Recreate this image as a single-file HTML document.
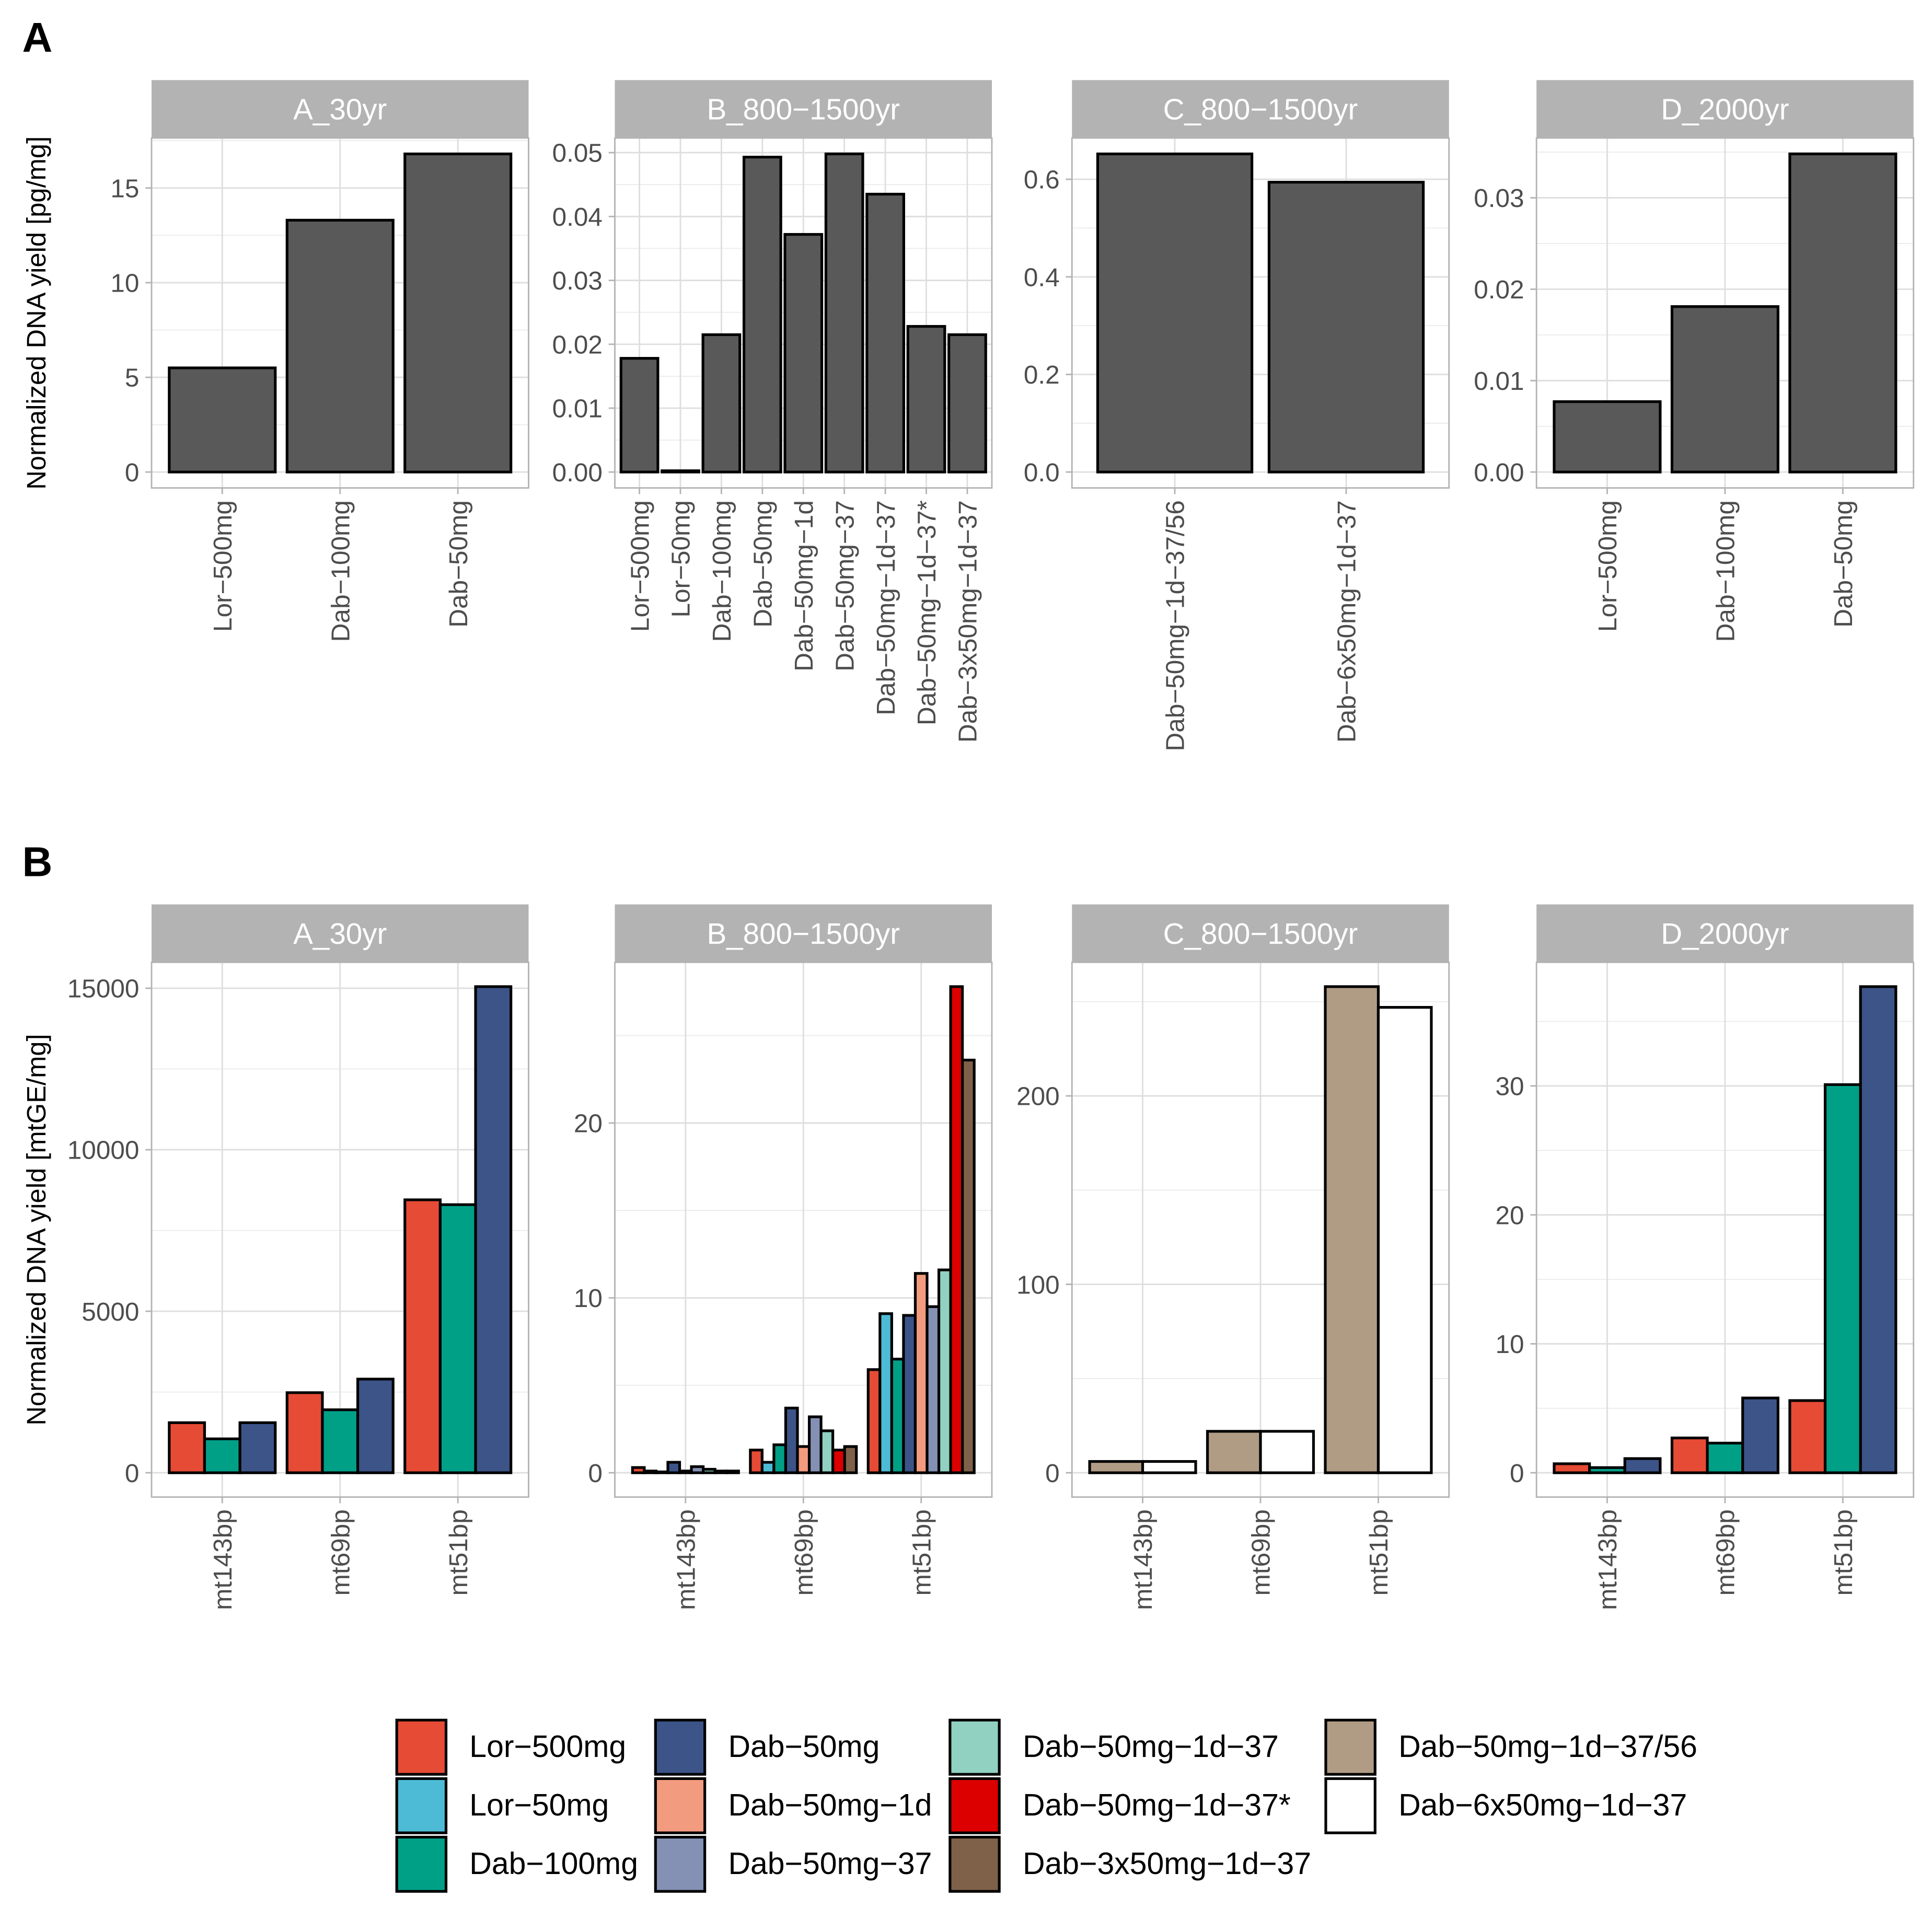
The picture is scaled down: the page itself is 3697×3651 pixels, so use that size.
<!DOCTYPE html>
<html><head><meta charset="utf-8"><style>
html,body{margin:0;padding:0;background:#fff;}
svg{display:block;}
text{font-family:"Liberation Sans",Arial,sans-serif;}
</style></head><body>
<svg id="fig" width="3697" height="3651" viewBox="0 0 1568 1548.5" preserveAspectRatio="none" xmlns="http://www.w3.org/2000/svg">
<text x="18" y="42" font-size="34" font-weight="bold">A</text>
<text x="18" y="711" font-size="34" font-weight="bold">B</text>
<text transform="translate(37,254) rotate(-90)" text-anchor="middle" font-size="21.5" fill="#000">Normalized DNA yield [pg/mg]</text>
<text transform="translate(37,998) rotate(-90)" text-anchor="middle" font-size="21.5" fill="#000">Normalized DNA yield [mtGE/mg]</text>
<g id="plots"></g>
<g id="legend"></g>
</svg>
<script>
// ---- data ----
const seriesNames = ["Lor−500mg","Lor−50mg","Dab−100mg","Dab−50mg","Dab−50mg−1d","Dab−50mg−37","Dab−50mg−1d−37","Dab−50mg−1d−37*","Dab−3x50mg−1d−37","Dab−50mg−1d−37/56","Dab−6x50mg−1d−37"];
const seriesColors = ["#e64b35","#4dbbd5","#00a087","#3c5488","#f39b7f","#8491b4","#91d1c2","#dc0000","#7e6148","#b09c85","#ffffff"];
const facetTitles = ["A_30yr","B_800−1500yr","C_800−1500yr","D_2000yr"];

const a1Cats = ["Lor−500mg","Dab−100mg","Dab−50mg"];
const a1Vals = [5.5,13.3,16.8];
const a1Ticks = [0,5,10,15];
const a1TickLabels = ["0","5","10","15"];
const a2Cats = ["Lor−500mg","Lor−50mg","Dab−100mg","Dab−50mg","Dab−50mg−1d","Dab−50mg−37","Dab−50mg−1d−37","Dab−50mg−1d−37*","Dab−3x50mg−1d−37"];
const a2Vals = [0.0178,0.0002,0.0215,0.0493,0.0372,0.0498,0.0435,0.0228,0.0215];
const a2Ticks = [0,0.01,0.02,0.03,0.04,0.05];
const a2TickLabels = ["0.00","0.01","0.02","0.03","0.04","0.05"];
const a3Cats = ["Dab−50mg−1d−37/56","Dab−6x50mg−1d−37"];
const a3Vals = [0.652,0.594];
const a3Ticks = [0,0.2,0.4,0.6];
const a3TickLabels = ["0.0","0.2","0.4","0.6"];
const a4Cats = ["Lor−500mg","Dab−100mg","Dab−50mg"];
const a4Vals = [0.0077,0.0181,0.0348];
const a4Ticks = [0,0.01,0.02,0.03];
const a4TickLabels = ["0.00","0.01","0.02","0.03"];

const mtCats = ["mt143bp","mt69bp","mt51bp"];
const b1Series = [0,2,3];
const b1Vals = [[1550,2480,8450],[1050,1950,8300],[1550,2900,15050]];
const b1Ticks = [0,5000,10000,15000];
const b1TickLabels = ["0","5000","10000","15000"];
const b2Series = [0,1,2,3,4,5,6,7,8];
const b2Vals = [[0.3,1.3,5.9],[0.1,0.6,9.1],[0.05,1.6,6.5],[0.6,3.7,9.0],[0.1,1.5,11.4],[0.35,3.2,9.5],[0.2,2.4,11.6],[0.1,1.3,27.8],[0.1,1.5,23.6]];
const b2Ticks = [0,10,20];
const b2TickLabels = ["0","10","20"];
const b3Series = [9,10];
const b3Vals = [[6,22,258],[6,22,247]];
const b3Ticks = [0,100,200];
const b3TickLabels = ["0","100","200"];
const b4Series = [0,2,3];
const b4Vals = [[0.7,2.7,5.6],[0.4,2.3,30.1],[1.1,5.8,37.7]];
const b4Ticks = [0,10,20,30];
const b4TickLabels = ["0","10","20","30"];

// ---- drawing ----
const NS="http://www.w3.org/2000/svg";
const root=document.getElementById('plots');
function mk(tag,attrs,parent){const e=document.createElementNS(NS,tag);for(const k in attrs)e.setAttribute(k,attrs[k]);(parent||root).appendChild(e);return e;}
const panelX=[123,499,870,1247], panelW=306;

function panel(idx,row,cats,series,ticks,tickLabels,pfx){
  const x0=panelX[idx], top=row===0?65:734, stripH=47, py=top+stripH, pb=row===0?396:1215, ph=pb-py;
  let maxv=0; series.forEach(s=>s.vals.forEach(v=>{if(v>maxv)maxv=v;}));
  const lo=-0.05*maxv, hi=maxv*1.05;
  const yS=v=>pb-(v-lo)/(hi-lo)*ph;
  const unit=panelW/(cats.length-1+1.2);
  const xS=i=>x0+(0.6+i)*unit;
  const g=mk('g',{});
  
  
  mk('rect',{x:x0,y:py,width:panelW,height:ph,fill:'#fff'},g);
  const step=ticks[1]-ticks[0];
  for(let i=-1;i<ticks.length;i++){
    const mv=ticks[0]+(i+0.5)*step;
    if(mv<hi && mv>lo){mk('line',{x1:x0,x2:x0+panelW,y1:yS(mv),y2:yS(mv),stroke:'#ececec','stroke-width':0.8},g);}
  }
  ticks.forEach((t,i)=>{
    const y=yS(t);
    mk('line',{x1:x0,x2:x0+panelW,y1:y,y2:y,stroke:'#dedede','stroke-width':1.2},g);
    mk('line',{x1:x0-5,x2:x0,y1:y,y2:y,stroke:'#b3b3b3','stroke-width':1.2},g);
    const t2=mk('text',{x:x0-10,y:y+7.5,'text-anchor':'end','font-size':21,fill:'#4d4d4d'},g);
    
    
    t2.textContent=tickLabels[i];
  });
  cats.forEach((c,i)=>{
    const x=xS(i);
    mk('line',{x1:x,x2:x,y1:py,y2:pb,stroke:'#dedede','stroke-width':1.2},g);
    mk('line',{x1:x,x2:x,y1:pb,y2:pb+5,stroke:'#b3b3b3','stroke-width':1.2},g);
    const t=mk('text',{transform:`translate(${x+7.5},${pb+10}) rotate(-90)`,'text-anchor':'end','font-size':21,fill:'#4d4d4d'},g);
    
    
    t.textContent=c;
  });
  const n=series.length, bw=0.9*unit/n;
  series.forEach((s,si)=>{
    s.vals.forEach((v,ci)=>{
      const bx=xS(ci)-0.45*unit+si*bw;
      const r=mk('rect',{x:bx,y:Math.min(yS(v),yS(0)),width:bw,height:Math.abs(yS(0)-yS(v)),fill:s.color,stroke:'#000','stroke-width':2.2},g);
      
      
    });
  });
  mk('rect',{x:x0,y:py,width:panelW,height:ph,fill:'none',stroke:'#b3b3b3','stroke-width':1.2},g);
  const sr=mk('rect',{x:x0,y:top,width:panelW,height:stripH,fill:'#b3b3b3'},g);
  
  
  const st=mk('text',{x:x0+panelW/2,y:top+32,'text-anchor':'middle','font-size':24,fill:'#fff'},g);
  
  
  st.textContent=facetTitles[idx];
}
const grey='#595959';
panel(0,0,a1Cats,[{vals:a1Vals,color:grey}],a1Ticks,a1TickLabels,'a1');
panel(1,0,a2Cats,[{vals:a2Vals,color:grey}],a2Ticks,a2TickLabels,'a2');
panel(2,0,a3Cats,[{vals:a3Vals,color:grey}],a3Ticks,a3TickLabels,'a3');
panel(3,0,a4Cats,[{vals:a4Vals,color:grey}],a4Ticks,a4TickLabels,'a4');
panel(0,1,mtCats,b1Series.map((s,i)=>({vals:b1Vals[i],color:seriesColors[s]})),b1Ticks,b1TickLabels,'b1');
panel(1,1,mtCats,b2Series.map((s,i)=>({vals:b2Vals[i],color:seriesColors[s]})),b2Ticks,b2TickLabels,'b2');
panel(2,1,mtCats,b3Series.map((s,i)=>({vals:b3Vals[i],color:seriesColors[s]})),b3Ticks,b3TickLabels,'b3');
panel(3,1,mtCats,b4Series.map((s,i)=>({vals:b4Vals[i],color:seriesColors[s]})),b4Ticks,b4TickLabels,'b4');

// legend
const leg=document.getElementById('legend');
const colX=[321,531,770,1075];
seriesNames.forEach((nm,i)=>{
  const col=Math.floor(i/3), row=i%3;
  const x=colX[col], y=1395+row*47.5;
  const r=mk('rect',{x:x+1,y:y+1,width:40,height:44,fill:seriesColors[i],stroke:'#000','stroke-width':2.2},leg);
  
  
  const t=mk('text',{x:x+60,y:y+31,'font-size':25,fill:'#000'},leg);
  
  
  t.textContent=nm;
});
</script>
</body></html>
